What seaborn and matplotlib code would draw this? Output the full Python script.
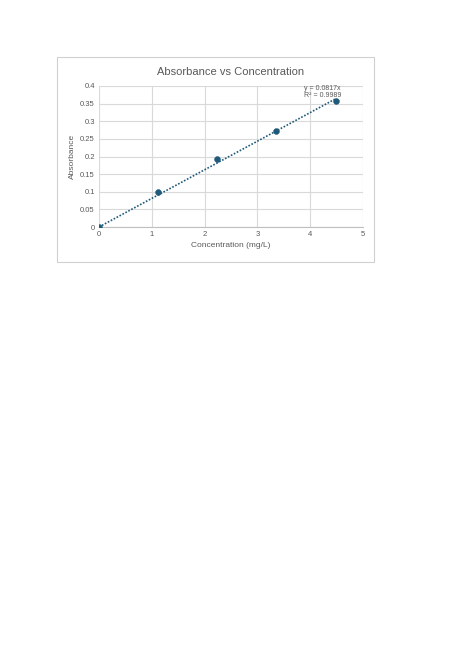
import matplotlib.pyplot as plt
import matplotlib.patches as mpatches
import seaborn as sns
import numpy as np

conc = [0, 1.12, 2.24, 3.36, 4.48]
absorb = [0, 0.1, 0.193, 0.271, 0.357]
slope_label = "y = 0.0817x"
r2_label = "R² = 0.9989"

sns.set_style("white")
plt.rcParams['font.family'] = ['Liberation Sans', 'DejaVu Sans']

fig = plt.figure(figsize=(4.74, 6.69), dpi=100)
# chart frame like Excel
fig.patches.append(mpatches.Rectangle((57/474, 1-262/669), 317/474, 205/669,
                                      transform=fig.transFigure, fill=False,
                                      edgecolor='#d0d0d0', linewidth=0.8))
ax = fig.add_axes([99/474, 1-227/669, 264/474, 141/669])

color = '#1f5a7a'
sns.scatterplot(x=conc, y=absorb, ax=ax, color=color, s=18, edgecolor=color, zorder=3)

# trend line through origin
c = np.array(conc); a = np.array(absorb)
k = (c*a).sum() / (c*c).sum()
xs = np.array([0, c.max()])
ax.plot(xs, k*xs, linestyle=(0, (1, 1)), color=color, linewidth=1.2, zorder=2)

ax.set_xlim(0, 5)
ax.set_ylim(0, 0.4)
ax.set_xticks(range(6))
ax.set_yticks([0, 0.05, 0.1, 0.15, 0.2, 0.25, 0.3, 0.35, 0.4])
ax.set_yticklabels(['0', '0.05', '0.1', '0.15', '0.2', '0.25', '0.3', '0.35', '0.4'])
ax.grid(True, color='#d9d9d9', linewidth=0.8)
for s in ['top', 'right', 'left']:
    ax.spines[s].set_visible(False)
ax.spines['bottom'].set_color('#bfbfbf')
ax.tick_params(labelsize=5.5, colors='#595959', length=0, pad=3)
ax.set_xlabel("Concentration (mg/L)", fontsize=6, color='#595959', labelpad=3)
ax.set_ylabel("Absorbance", fontsize=6, color='#595959', labelpad=3)
ax.set_title("Absorbance vs Concentration", fontsize=8, color='#595959', pad=8)
ax.text(3.88, 0.383, slope_label + "\n" + r2_label, fontsize=5, color='#595959',
        va='center', linespacing=1.1)

fig.savefig("out.png", dpi=100)
